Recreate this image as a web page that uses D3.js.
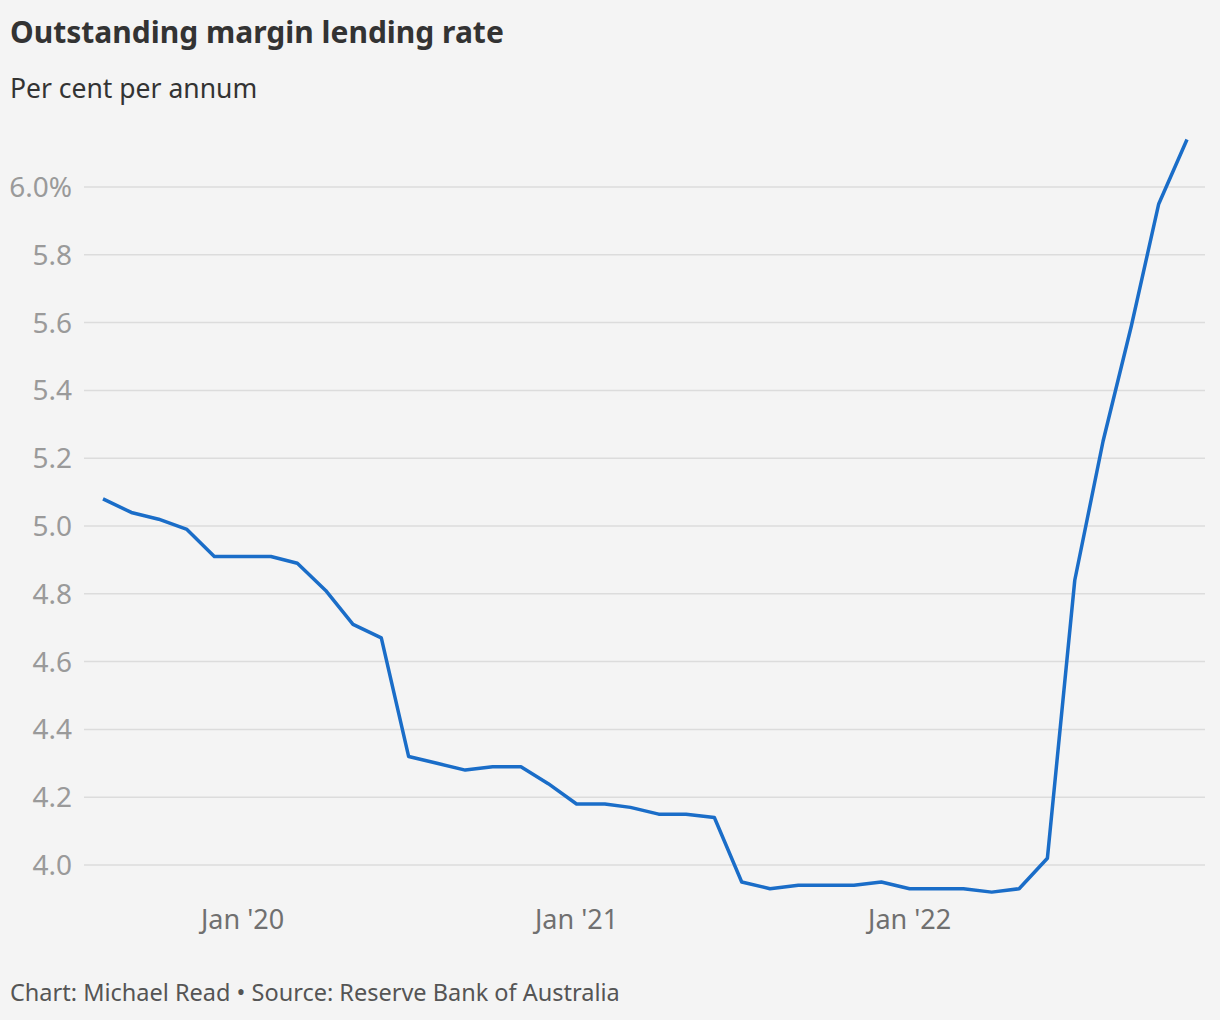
<!DOCTYPE html>
<html>
<head>
<meta charset="utf-8">
<script src="https://cdn.jsdelivr.net/npm/d3@7"></script>
<style>
  html, body { margin: 0; padding: 0; background: #f4f4f4; }
  svg { display: block; }
  .title { font-family: "Noto Sans", "Open Sans", sans-serif; font-weight: 700; font-size: 30px; fill: #333; }
  .sub { font-family: "Noto Sans", "Open Sans", sans-serif; font-size: 26.5px; fill: #333; }
  .ytick { font-family: "Noto Sans", sans-serif; font-size: 28px; fill: #9a9a9a; }
  .xtick { font-family: "Noto Sans", sans-serif; font-size: 27px; fill: #707070; }
  .foot { font-family: "Noto Sans", sans-serif; font-size: 23.5px; fill: #555; }
</style>
</head>
<body>
<svg width="1220" height="1020"></svg>
<script>
// monthly readings, Aug 2019 to Nov 2022
const months = ["2019-08","2019-09","2019-10","2019-11","2019-12",
  "2020-01","2020-02","2020-03","2020-04","2020-05","2020-06","2020-07","2020-08","2020-09","2020-10","2020-11","2020-12",
  "2021-01","2021-02","2021-03","2021-04","2021-05","2021-06","2021-07","2021-08","2021-09","2021-10","2021-11","2021-12",
  "2022-01","2022-02","2022-03","2022-04","2022-05","2022-06","2022-07","2022-08","2022-09","2022-10","2022-11"];
const rates = [5.08,5.04,5.02,4.99,4.91,
  4.91,4.91,4.89,4.81,4.71,4.67,4.32,4.30,4.28,4.29,4.29,4.24,
  4.18,4.18,4.17,4.15,4.15,4.14,3.95,3.93,3.94,3.94,3.94,3.95,
  3.93,3.93,3.93,3.92,3.93,4.02,4.84,5.25,5.59,5.95,6.14];
const yTicks = [4.0,4.2,4.4,4.6,4.8,5.0,5.2,5.4,5.6,5.8,6.0];
const xTicks = ["2020-01","2021-01","2022-01"];
const xTickLabels = ["Jan '20","Jan '21","Jan '22"];

const parse = d3.timeParse("%Y-%m");
const data = months.map((m, i) => ({ date: parse(m), value: rates[i] }));

const svg = d3.select("svg");

svg.append("text").attr("class", "title").attr("x", 10).attr("y", 43).text("Outstanding margin lending rate");
svg.append("text").attr("class", "sub").attr("x", 10).attr("y", 98).text("Per cent per annum");

const x = d3.scaleTime().domain(d3.extent(data, d => d.date)).range([103, 1187]);
const y = d3.scaleLinear().domain([4, 6]).range([865, 187]);

// gridlines + y labels
const yg = svg.append("g");
yTicks.forEach(t => {
  yg.append("line")
    .attr("x1", 84).attr("x2", 1205)
    .attr("y1", y(t)).attr("y2", y(t))
    .attr("stroke", "#dcdcdc").attr("stroke-width", 1.5);
  yg.append("text").attr("class", "ytick")
    .attr("x", 72).attr("y", y(t)).attr("dy", "0.36em")
    .attr("text-anchor", "end")
    .text(t === 6.0 ? "6.0%" : t.toFixed(1));
});

// x labels
xTicks.forEach((t, i) => {
  svg.append("text").attr("class", "xtick")
    .attr("x", x(parse(t))).attr("y", 929)
    .attr("text-anchor", "middle")
    .text(xTickLabels[i]);
});

const line = d3.line().x(d => x(d.date)).y(d => y(d.value));
svg.append("path").datum(data)
  .attr("d", line)
  .attr("fill", "none")
  .attr("stroke", "#1a6dc8")
  .attr("stroke-width", 3.5)
  .attr("stroke-linejoin", "round");

svg.append("text").attr("class", "foot").attr("x", 10).attr("y", 1001)
  .text("Chart: Michael Read \u2022 Source: Reserve Bank of Australia");
</script>
</body>
</html>
